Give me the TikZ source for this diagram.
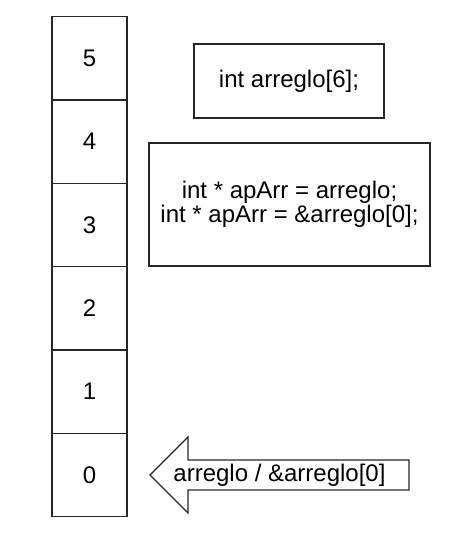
\documentclass[tikz,border=0pt]{standalone}
\usepackage{fontspec}
\setmainfont{Liberation Sans}
\usetikzlibrary{positioning}

\tikzset{
    cell/.style={draw=black!85, line width=1.3pt, minimum width=75pt, minimum height=83.33pt, inner sep=0pt, font=\fontsize{24}{24}\selectfont},
    codebox/.style={draw=black!85, line width=1.3pt, align=center, inner sep=0pt, font=\fontsize{24}{24}\selectfont},
}

\begin{document}
\begin{tikzpicture}[x=1pt, y=-1pt]
    \useasboundingbox (0,0) rectangle (450,536);

    % Array cells, index 0 at the bottom
    \foreach \i in {0,...,5} {
        \node[cell] (cell\i) at (89.5, {475 - \i*83.33}) {\i};
    }

    % Declaration and pointer boxes
    \node[codebox, minimum width=190pt, minimum height=74pt] (decl) at (289, 81) {int arreglo[6];};
    \node[codebox, minimum width=281pt, minimum height=123pt] (ptr) at (289.5, 204.5) {int * apArr = arreglo;\\ int * apArr = \&arreglo[0];};

    % Arrow pointing at the first element
    \coordinate (tip) at (150, 475);
    \draw[draw=black!85, line width=1.3pt, line join=miter] (tip) -- (188, 437) -- (188, 460) -- (409, 460)
        -- (409, 490) -- (188, 490) -- (188, 513) -- cycle;
    \node[font=\fontsize{24}{24}\selectfont, inner sep=0pt] (label) at (279.5, 475) {arreglo / \&arreglo[0]};
\end{tikzpicture}
\end{document}
